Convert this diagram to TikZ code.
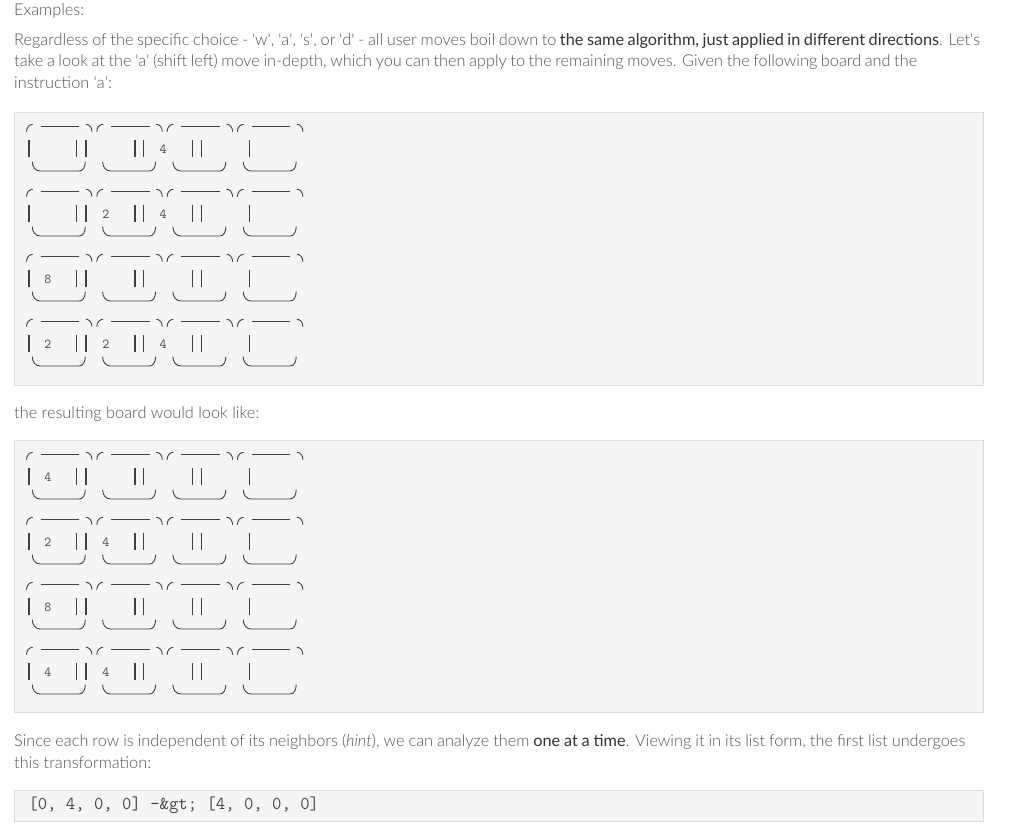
\documentclass[tikz,border=0pt]{standalone}
\usepackage{fontspec}
\setmainfont{Lato}[UprightFont=* Light, ItalicFont=* Light Italic, BoldFont=*]
\definecolor{bodygray}{HTML}{525252}
\definecolor{darktxt}{HTML}{333333}
\definecolor{boxfill}{HTML}{F5F5F5}
\definecolor{boxborder}{HTML}{DCDCDC}
\definecolor{artcol}{HTML}{3C4148}
\definecolor{numcol}{HTML}{454545}
\newcommand\emphdark[1]{{\bfseries\color{darktxt}#1}}
\newcommand\sq{\textquotesingle}
\tikzset{
  txt/.style={anchor=base west, inner sep=0pt, text=bodygray, font=\fontsize{16.3}{19}\selectfont},
  codebox/.style={draw=boxborder, fill=boxfill, line width=1pt},
  art/.style={draw=artcol, line width=0.9pt},
  bar/.style={draw=artcol, line width=1.1pt},
  num/.style={inner sep=0pt, text=numcol, font=\ttfamily\fontsize{13.6}{14}\selectfont},
  codetxt/.style={anchor=west, inner sep=0pt, text=numcol, font=\ttfamily\fontsize{18.2}{18}\selectfont},
}
\begin{document}
\begin{tikzpicture}[x=1pt,y=-1pt]
\useasboundingbox[fill=white] (0,0) rectangle (1022,838);

% text above first board
\node[txt] (ex) at (14,15.5) {Examples:};
\node[txt] (l1) at (14,45) {\makebox[966pt][s]{Regardless of the specific choice - \sq w\sq, \sq a\sq, \sq s\sq, or \sq d\sq\ - all user moves boil down to \emphdark{the same algorithm, just applied in different directions}. Let\sq s}};
\node[txt] (l2) at (14,66.5) {\makebox[902.7pt][s]{take a look at the \sq a\sq\ (shift left) move in-depth, which you can then apply to the remaining moves. Given the following board and the}};
\node[txt] (l3) at (14,88) {instruction \sq a\sq:};

% code boxes
\draw[codebox] (14,112) rectangle (983,385);
\draw[codebox] (14,440.5) rectangle (983,712.7);
\draw[codebox] (14,790) rectangle (983,821);

\node[txt] (res) at (14,418.3) {the resulting board would look like:};
\node[txt] (s1) at (14,746.7) {\makebox[951pt][s]{Since each row is independent of its neighbors (\textit{hint}), we can analyze them \emphdark{one at a time}. Viewing it in its list form, the first list undergoes}};
\node[txt] (s2) at (14,768.3) {this transformation:};
\node[codetxt] (code) at (28.3,805.5) {[0, 4, 0, 0] -\&gt; [4, 0, 0, 0]};

% tiles
\foreach \by in {124.3, 452.3} {
  \foreach \r in {0,1,2,3} {
    \pgfmathsetmacro\yy{\by+65*\r}
    \foreach \i in {0,1,2,3} {
      \pgfmathsetmacro\lx{26.5+70.3*\i}
      \draw[art] (\lx,\yy+7.4) .. controls (\lx,\yy+3.3) and (\lx+2.7,\yy) .. (\lx+6.2,\yy);
      \draw[art] (\lx+14.2,\yy+2.4) -- (\lx+52.8,\yy+2.4);
      \draw[art] (\lx+59.5,\yy) .. controls (\lx+63,\yy) and (\lx+65.5,\yy+3.3) .. (\lx+65.5,\yy+7.4);
      \draw[art] (\lx+5.8,\yy+37.4) .. controls (\lx+5.8,\yy+42.5) and (\lx+9,\yy+46.7) .. (\lx+13.5,\yy+46.7)
        -- (\lx+52.8,\yy+46.7) .. controls (\lx+56.5,\yy+46.7) and (\lx+58.8,\yy+42.5) .. (\lx+58.8,\yy+37.4);
    }
    \foreach \bx in {29,76.7,86,135,143.8,192.7,201.7,249.3}
      \draw[bar] (\bx,\yy+15.7) -- (\bx,\yy+33);
  }
}

% tile numbers
\foreach \x/\y/\v/\n in {163/149/4/a, 106/214/2/b, 163/214/4/c, 48/279/8/d, 48/344/2/e, 106/344/2/f, 163/344/4/g,
  48/477/4/h, 48/542/2/i, 106/542/4/j, 48/607/8/k, 48/672/4/l, 106/672/4/m}
  \node[num] (n\n) at (\x,\y) {\v};
\end{tikzpicture}
\end{document}
